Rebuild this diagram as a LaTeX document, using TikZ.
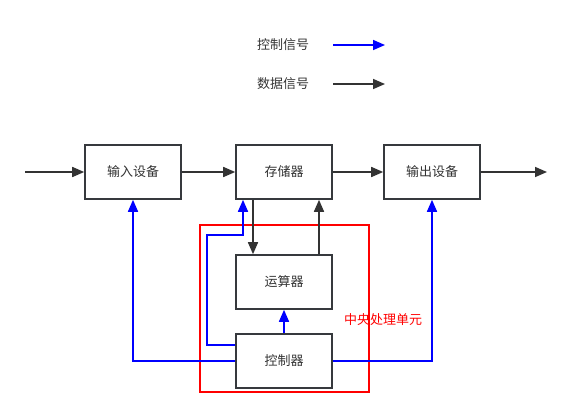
\documentclass[tikz,border=0pt]{standalone}
\usepackage{fontspec}
\setmainfont{Noto Sans CJK SC}
\usetikzlibrary{arrows.meta, positioning}

\definecolor{linegray}{HTML}{333333}
\definecolor{boxgray}{HTML}{36393D}

\tikzset{
  unit/.style={draw=boxgray, line width=1.6pt, fill=white, minimum width=96pt,
    minimum height=54pt, inner sep=0pt, text=linegray},
  data/.style={draw=linegray, line width=1.6pt, -{Triangle[length=12pt,width=10pt]}},
  ctl/.style={draw=blue, line width=1.6pt, -{Triangle[length=12pt,width=10pt]}},
  legend/.style={text=linegray}
}

\begin{document}
\begin{tikzpicture}[x=1pt, y=-1pt, font=\fontsize{13}{15}\selectfont]
    \useasboundingbox (0,0) rectangle (567,416);

    % legend
    \node [legend] (lc) at (283,45) {控制信号};
    \node [legend] (ld) at (283,84) {数据信号};
    \coordinate (lc1) at (333,45);
    \coordinate (lc2) at (385,45);
    \coordinate (ld1) at (333,84);
    \coordinate (ld2) at (385,84);
    \draw[ctl] (lc1) -- (lc2);
    \draw[data] (ld1) -- (ld2);

    % cpu frame
    \draw[red, line width=1.6pt] (200,225) rectangle (369,392);
    \node [text=red] (cpu) at (383,320) {中央处理单元};

    % units
    \node [unit] (in) at (133,172) {输入设备};
    \node [unit] (mem) at (284,172) {存储器};
    \node [unit] (out) at (432,172) {输出设备};
    \node [unit] (alu) at (284,282) {运算器};
    \node [unit] (ctrl) at (284,361) {控制器};

    \coordinate (src) at (25,172);
    \coordinate (dst) at (547,172);
    \coordinate (bend) at (207,235);

    % data flow
    \draw[data] (src) -- (in);
    \draw[data] (in) -- (mem);
    \draw[data] (mem) -- (out);
    \draw[data] (out) -- (dst);
    \draw[data] ([xshift=-31pt]mem.south) -- ([xshift=-31pt]alu.north);
    \draw[data] ([xshift=35pt]alu.north) -- ([xshift=35pt]mem.south);

    % control flow
    \draw[ctl] (ctrl) -- (alu);
    \draw[ctl] ([yshift=16pt]ctrl.west) -| (bend) -| ([xshift=-41pt]mem.south);
    \draw[ctl] (ctrl.west) -| (in.south);
    \draw[ctl] (ctrl.east) -| (out.south);
\end{tikzpicture}
\end{document}
